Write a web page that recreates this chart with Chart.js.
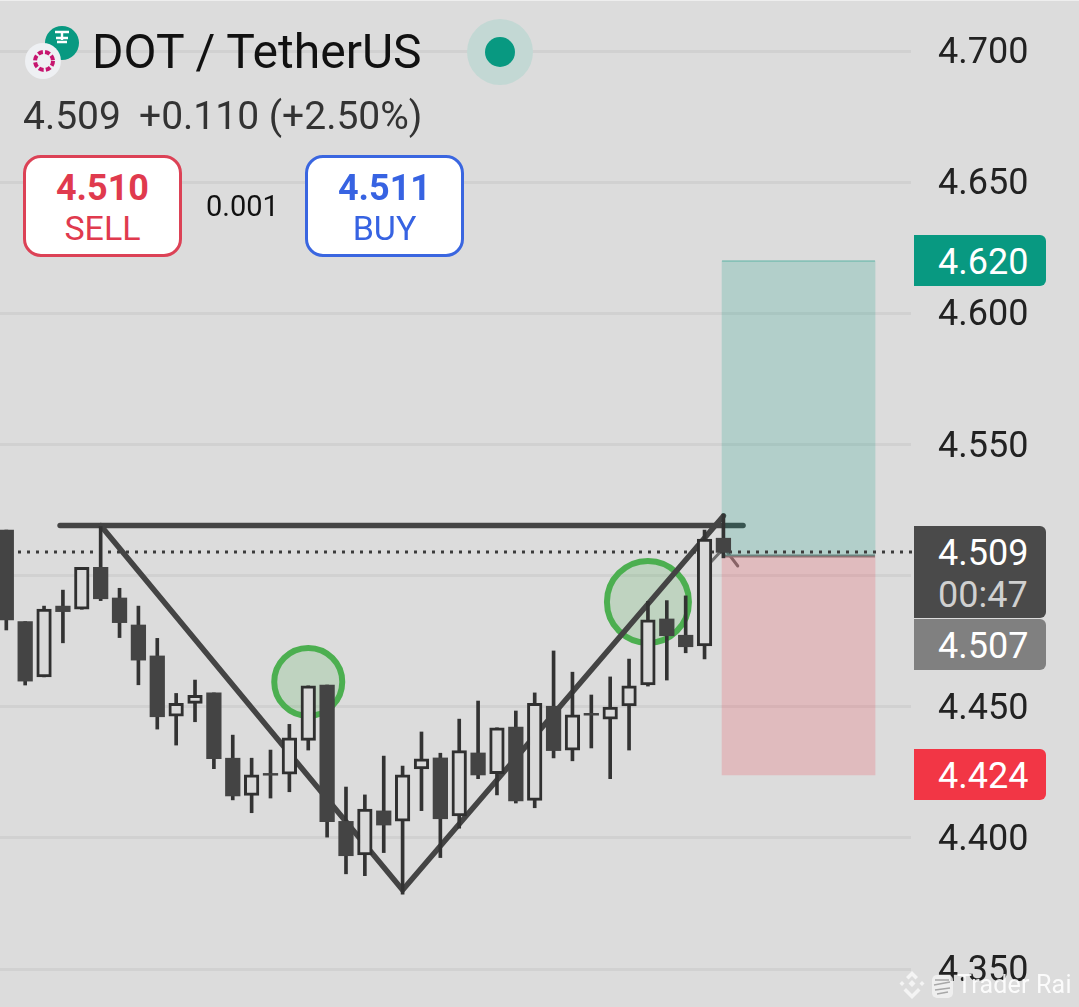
<!DOCTYPE html>
<html>
<head>
<meta charset="utf-8">
<title>DOT / TetherUS</title>
<script src="https://cdn.jsdelivr.net/npm/chart.js@4"></script>
<style>
  html, body { margin: 0; padding: 0; background: #dcdcdc; }
  #wrap { position: relative; width: 1079px; height: 1007px; overflow: hidden; font-family: Roboto, sans-serif; }
  #wrap::before { content: ""; position: absolute; left: 0; top: 0; width: 100%; height: 1px; background: #eeeeee; z-index: 1; }
  #chart { position: absolute; left: 0; top: 0; }
  .txt { position: absolute; white-space: pre; line-height: 1; }
  .btn { position: absolute; top: 155px; width: 153px; height: 96px; background: #fff; border: 3px solid; border-radius: 18px; text-align: center; }
  .btn b { display: block; font-size: 36px; font-weight: 700; line-height: 36px; margin-top: 12px; }
  .btn span { display: block; font-size: 34px; line-height: 34px; margin-top: 5px; }
  .tag { position: absolute; left: 914px; width: 132px; height: 51px; color: #fff; font-size: 36px; line-height: 55px; text-indent: 24px; border-radius: 0 6px 6px 0; }
</style>
</head>
<body>
<div id="wrap">
  <canvas id="chart" width="1079" height="1007"></canvas>

  <svg class="txt" style="left:20px;top:18px" width="70" height="70" viewBox="0 0 70 70">
    <circle cx="42" cy="25" r="17" fill="#089981"/>
    <path d="M35 14h14M42 14v8M36 20h12M37 24h10" stroke="#fff" stroke-width="2.4" fill="none"/>
    <circle cx="23" cy="43" r="18" fill="#eef0f3"/>
    <circle cx="24" cy="43" r="9" fill="none" stroke="#c6156f" stroke-width="4" stroke-dasharray="5 2.2"/>
  </svg>
  <div class="txt" style="left:92px;top:28px;font-size:48px;color:#111">DOT / TetherUS</div>
  <svg class="txt" style="left:466px;top:18px" width="68" height="68">
    <circle cx="34" cy="34" r="33" fill="#c3d8d4"/>
    <circle cx="34" cy="34" r="15" fill="#089981"/>
  </svg>
  <div class="txt" style="left:23px;top:97px;font-size:39px;color:#333">4.509</div>
  <div class="txt" style="left:139px;top:97px;font-size:39px;color:#333">+0.110 (+2.50%)</div>

  <div class="btn" style="left:23px;border-color:#dc4256;color:#e03a4e"><b>4.510</b><span>SELL</span></div>
  <div class="txt" style="left:206px;top:192px;font-size:29px;color:#111">0.001</div>
  <div class="btn" style="left:305px;border-color:#3a66e0;color:#3763e2"><b>4.511</b><span>BUY</span></div>

  <div class="tag" style="top:235px;background:#089981">4.620</div>
  <div class="tag" style="top:526px;height:92px;background:#4a4a4a">4.509<div style="color:#d0d0d0;margin-top:-13px">00:47</div></div>
  <div class="tag" style="top:619px;background:#808080">4.507</div>
  <div class="tag" style="top:749px;background:#f23645">4.424</div>

  <svg class="txt" style="left:897px;top:968px" width="60" height="36" viewBox="0 0 60 36">
    <path fill="#f4f4f4" d="M15 3l6 6-2.500 2.500L15 8l-3.500 3.500L9 9zM5 13l2.500 2.500L5 18l-2.500-2.500zM25 13l2.500 2.500L25 18l-2.500-2.500zM15 12l3.500 3.500L15 19l-3.500-3.500zM9 20l6 6 6-6 2.500 2.500L15 31l-8.500-8.500z"/>
    <rect x="35" y="7" width="21" height="23" rx="5" fill="#f4f4f4" opacity="0.8"/>
    <path d="M38 12h14M37 17l16-3M38 22l15-2M40 26l11-2" stroke="#a8a8a8" stroke-width="1.500" fill="none"/>
  </svg>
  <div class="txt" style="left:957px;top:972px;font-size:25px;color:#fff;opacity:.88;letter-spacing:.2px">Trader Rai</div>
</div>

<script>
// Candles, left to right
const opens = [4.5174, 4.4825, 4.4614, 4.4884, 4.4872, 4.5032, 4.4915, 4.4812, 4.4694, 4.4464,
    4.4513, 4.4553, 4.4304, 4.4162, 4.4246, 4.4243, 4.4372, 4.4583, 4.4063, 4.3935,
    4.4103, 4.4064, 4.4263, 4.4305, 4.4084, 4.4324, 4.4245, 4.4423, 4.4143, 4.4502,
    4.4335, 4.4475, 4.4453, 4.4503, 4.4583, 4.4835, 4.4773, 4.4732, 4.5143];
const closes = [4.4831, 4.4598, 4.4873, 4.4863, 4.5032, 4.4912, 4.4821, 4.4678, 4.4462, 4.4513,
    4.4544, 4.4302, 4.4160, 4.4241, 4.4239, 4.4382, 4.4580, 4.4062, 4.3932, 4.4110,
    4.4049, 4.4241, 4.4302, 4.4073, 4.4333, 4.4240, 4.4420, 4.4141, 4.4513, 4.4333,
    4.4469, 4.4468, 4.4499, 4.4580, 4.4832, 4.4771, 4.4729, 4.5140, 4.5089];
const highs = [4.5174, 4.4825, 4.4884, 4.4945, 4.5032, 4.5187, 4.4952, 4.4884, 4.4761, 4.4551,
    4.4602, 4.4553, 4.4392, 4.4304, 4.4335, 4.4433, 4.4580, 4.4583, 4.4194, 4.4164,
    4.4312, 4.4274, 4.4404, 4.4323, 4.4453, 4.4522, 4.4420, 4.4484, 4.4553, 4.4713,
    4.4632, 4.4545, 4.4614, 4.4682, 4.4902, 4.4905, 4.4923, 4.5174, 4.5235];
const lows = [4.4793, 4.4583, 4.4614, 4.4744, 4.4872, 4.4905, 4.4764, 4.4584, 4.4415, 4.4354,
    4.4443, 4.4264, 4.4145, 4.4096, 4.4152, 4.4176, 4.4335, 4.4003, 4.3863, 4.3856,
    4.3944, 4.3785, 4.4104, 4.3925, 4.4037, 4.4226, 4.4164, 4.4133, 4.4115, 4.4305,
    4.4294, 4.4343, 4.4226, 4.4335, 4.4579, 4.4602, 4.4706, 4.4683, 4.5068];

const yTicks = [4.70, 4.65, 4.60, 4.55, 4.50, 4.45, 4.40, 4.35];

// Drawn objects, x in candle numbers
const neckX = [2.85, 39.04];
const neckY = [4.5191, 4.5191];
const vX = [5, 21, 38];
const vY = [4.5191, 4.3801, 4.5228];
const lastPriceX = [0.62, 48.16];
const lastPriceY = [4.5090, 4.5090];
const arrowX = [37.19, 38.03, 38.76];
const arrowY = [4.5041, 4.5106, 4.5037];
const circleX = [16, 34];
const circleY = [4.4595, 4.4900];
const circleR = [34, 41];

// Long position tool
const boxX = [37.93, 46.03];
const boxTarget = 4.620;
const boxEntry = 4.5075;
const boxStop = 4.424;

const dark = '#444444';
const boxMid = (boxX[0] + boxX[1]) / 2;
const isUp = i => closes[i] > opens[i];

function pts(xs, ys) {
    return xs.map((x, i) => ({ x: x, y: ys[i] }));
}

function lineSet(xs, ys, color, width, order, extra) {
    return Object.assign({
        type: 'line',
        data: pts(xs, ys),
        borderColor: color,
        borderWidth: width,
        pointRadius: 0,
        tension: 0,
        borderCapStyle: 'round',
        order: order
    }, extra || {});
}

const datasets = [
    {
        label: 'body',
        type: 'bar',
        data: opens.map((o, i) => ({ x: i, y: [o, closes[i]] })),
        grouped: false,
        barThickness: 14.6,
        borderSkipped: false,
        backgroundColor: c => isUp(c.dataIndex) ? '#dadada' : dark,
        borderColor: '#303030',
        borderWidth: c => isUp(c.dataIndex) ? 3 : 0,
        order: 1
    },
    {
        label: 'wick',
        type: 'bar',
        data: highs.map((h, i) => ({ x: i, y: [lows[i], h] })),
        grouped: false,
        barThickness: 3,
        backgroundColor: '#333333',
        order: 2
    },
    lineSet(lastPriceX, lastPriceY, '#3c3c3c', 3, 3, { borderDash: [3, 6], borderCapStyle: 'butt', clip: false }),
    {
        label: 'profit',
        type: 'bar',
        data: [{ x: boxMid, y: [boxEntry, boxTarget] }],
        grouped: false,
        barThickness: 153,
        backgroundColor: 'rgba(8,153,129,0.2)',
        order: 4
    },
    {
        label: 'loss',
        type: 'bar',
        data: [{ x: boxMid, y: [boxStop, boxEntry] }],
        grouped: false,
        barThickness: 153,
        backgroundColor: 'rgba(242,54,69,0.2)',
        order: 4
    },
    lineSet(boxX, [boxEntry, boxEntry], '#808080', 3, 5, { borderCapStyle: 'butt' }),
    lineSet(boxX, [boxTarget, boxTarget], 'rgba(8,153,129,0.25)', 2, 5, { borderCapStyle: 'butt' }),
    lineSet(arrowX, arrowY, '#6e6e6e', 3, 6),
    lineSet(vX, vY, dark, 5.5, 7),
    lineSet(neckX, neckY, dark, 5.5, 7, { clip: false }),
    {
        label: 'circles',
        type: 'line',
        showLine: false,
        data: pts(circleX, circleY),
        pointRadius: circleR,
        pointBorderWidth: 6,
        pointBorderColor: '#4caf50',
        pointBackgroundColor: 'rgba(76,175,80,0.2)',
        order: 8
    }
];

new Chart(document.getElementById('chart'), {
    data: { datasets: datasets },
    options: {
        responsive: false,
        animation: false,
        events: [],
        layout: { padding: 0, autoPadding: false },
        plugins: { legend: { display: false }, tooltip: { enabled: false } },
        scales: {
            x: {
                type: 'linear',
                display: false,
                offset: false,
                min: -0.334,
                max: 47.94
            },
            y: {
                type: 'linear',
                position: 'right',
                min: 4.33551,
                max: 4.71956,
                afterFit: axis => {
                    axis.width = 168;
                    axis.paddingTop = 0;
                    axis.paddingBottom = 0;
                },
                afterBuildTicks: axis => { axis.ticks = yTicks.map(v => ({ value: v })); },
                border: { display: false },
                grid: { color: '#d1d1d1', lineWidth: 3, drawTicks: false },
                ticks: {
                    padding: 27,
                    labelOffset: 3,
                    color: '#222222',
                    font: { family: 'Roboto', size: 36 },
                    callback: v => v.toFixed(3)
                }
            }
        }
    }
});
</script>
</body>
</html>
